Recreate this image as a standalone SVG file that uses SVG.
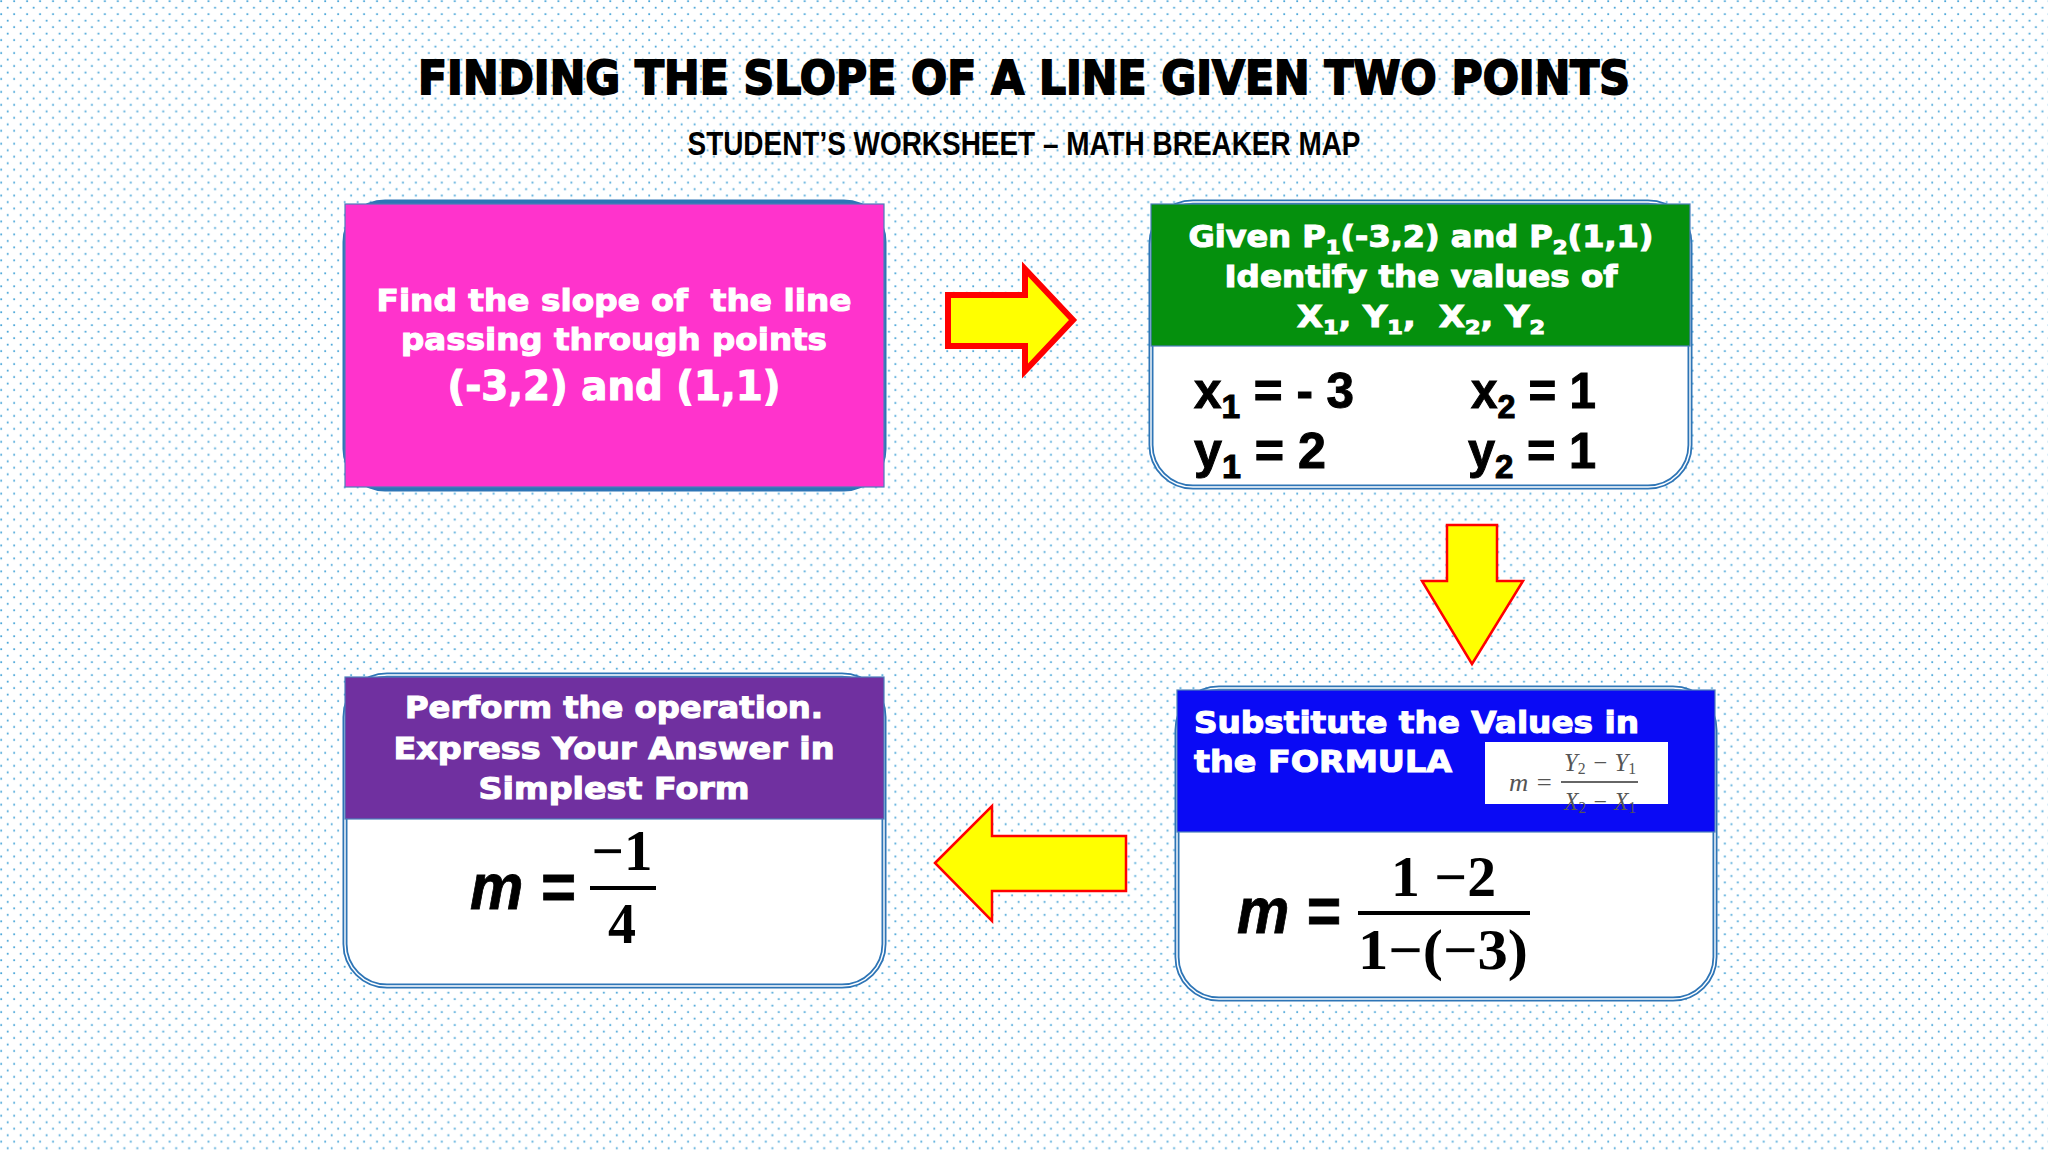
<svg xmlns="http://www.w3.org/2000/svg" width="2048" height="1152" viewBox="0 0 2048 1152">
<defs>
<pattern id="dots" x="0" y="0" width="12.96" height="12.96" patternUnits="userSpaceOnUse">
<rect x="0.3" y="0.3" width="1.8" height="1.8" fill="#4ba6d8"/>
<rect x="6.8" y="6.8" width="1.8" height="1.8" fill="#4ba6d8"/>
</pattern>
<style>
.frame{fill:#fff;stroke:#2e75b6;stroke-width:5}
.frameIn{fill:none;stroke:#fff;stroke-width:1.4}
.hdr{stroke:#4a7ebb;stroke-width:1.2}
.black{font-family:"DejaVu Sans","Liberation Sans",sans-serif;font-weight:bold}
.wt{fill:#fff;stroke:#fff;stroke-width:1.1}
.val{font-family:"Liberation Sans",Arial,sans-serif;font-weight:bold;font-size:50px;fill:#000;stroke:#000;stroke-width:1}
.mm{font-family:"Liberation Sans",Arial,sans-serif;font-weight:bold;font-style:italic;font-size:64px;fill:#000;stroke:#000;stroke-width:0.8}
.num{font-family:"Liberation Serif","DejaVu Serif",serif;font-weight:bold;font-size:56px;fill:#000}
.fm{font-family:"Liberation Serif","DejaVu Serif",serif;font-style:italic;font-size:25px;fill:#555}
.arrowY{fill:#ffff00;stroke:#ff0000;stroke-linejoin:miter}
</style>
</defs>
<rect width="2048" height="1152" fill="#fff"/>
<rect width="2048" height="1152" fill="url(#dots)"/>

<g id="title">
<text x="1024" y="94" text-anchor="middle" class="black" font-size="46" textLength="1212" lengthAdjust="spacingAndGlyphs" fill="#000" stroke="#000" stroke-width="1.8">FINDING THE SLOPE OF A LINE GIVEN TWO POINTS</text>
<text x="1024" y="155" text-anchor="middle" font-family="'Liberation Sans Narrow','Liberation Sans',Arial,sans-serif" font-weight="bold" font-size="33" textLength="673" lengthAdjust="spacingAndGlyphs" fill="#000">STUDENT’S WORKSHEET – MATH BREAKER MAP</text>
</g>

<g id="node-problem">
<rect class="frame" x="345" y="202" width="539" height="287" rx="40"/>
<rect class="hdr" x="345" y="204" width="539" height="283" fill="#ff33cc"/>
<text x="614" y="311" text-anchor="middle" class="black wt" font-size="31" textLength="475" lengthAdjust="spacingAndGlyphs" xml:space="preserve">Find the slope of  the line</text>
<text x="614" y="350" text-anchor="middle" class="black wt" font-size="31" textLength="426" lengthAdjust="spacingAndGlyphs">passing through points</text>
<text x="614" y="400" text-anchor="middle" class="black wt" font-size="40" textLength="333" lengthAdjust="spacingAndGlyphs">(-3,2) and (1,1)</text>
</g>

<g id="node-identify">
<rect class="frame" x="1151" y="202" width="539" height="285" rx="42"/>
<rect class="frameIn" x="1151" y="202" width="539" height="285" rx="42"/>
<rect class="hdr" x="1151" y="204" width="539" height="142" fill="#05900d"/>
<text x="1421" y="247" text-anchor="middle" class="black wt" font-size="30" textLength="465" lengthAdjust="spacingAndGlyphs">Given P<tspan font-size="20" dy="7">1</tspan><tspan dy="-7">(-3,2) and P</tspan><tspan font-size="20" dy="7">2</tspan><tspan dy="-7">(1,1)</tspan></text>
<text x="1421" y="287" text-anchor="middle" class="black wt" font-size="30" textLength="393" lengthAdjust="spacingAndGlyphs">Identify the values of</text>
<text x="1421" y="327" text-anchor="middle" class="black wt" font-size="30" textLength="248" lengthAdjust="spacingAndGlyphs" xml:space="preserve">X<tspan font-size="20" dy="7">1</tspan><tspan dy="-7">, Y</tspan><tspan font-size="20" dy="7">1</tspan><tspan dy="-7">,  X</tspan><tspan font-size="20" dy="7">2</tspan><tspan dy="-7">, Y</tspan><tspan font-size="20" dy="7">2</tspan></text>
<text x="1194" y="408" class="val" textLength="160" lengthAdjust="spacingAndGlyphs">x<tspan font-size="34" dy="10">1</tspan><tspan dy="-10"> = - 3</tspan></text>
<text x="1471" y="408" class="val" textLength="125" lengthAdjust="spacingAndGlyphs">x<tspan font-size="34" dy="10">2</tspan><tspan dy="-10"> = 1</tspan></text>
<text x="1194" y="468" class="val" textLength="132" lengthAdjust="spacingAndGlyphs">y<tspan font-size="34" dy="10">1</tspan><tspan dy="-10"> = 2</tspan></text>
<text x="1468" y="468" class="val" textLength="128" lengthAdjust="spacingAndGlyphs">y<tspan font-size="34" dy="10">2</tspan><tspan dy="-10"> = 1</tspan></text>
</g>

<g id="node-substitute">
<rect class="frame" x="1177" y="688" width="538" height="311" rx="42"/>
<rect class="frameIn" x="1177" y="688" width="538" height="311" rx="42"/>
<rect class="hdr" x="1177" y="690" width="538" height="142" fill="#0a0af5"/>
<text x="1194" y="733" class="black wt" font-size="30" textLength="445" lengthAdjust="spacingAndGlyphs">Substitute the Values in</text>
<text x="1194" y="772" class="black wt" font-size="30" textLength="258" lengthAdjust="spacingAndGlyphs">the FORMULA</text>
<rect x="1485" y="742" width="183" height="62" fill="#fff"/>
<text x="1509" y="791" class="fm" textLength="44" lengthAdjust="spacingAndGlyphs">m =</text>
<text x="1600" y="771" text-anchor="middle" class="fm" textLength="72" lengthAdjust="spacingAndGlyphs">Y<tspan font-size="16" dy="3" font-style="normal">2</tspan><tspan dy="-3"> − Y</tspan><tspan font-size="16" dy="3" font-style="normal">1</tspan></text>
<line x1="1561" y1="782" x2="1638" y2="782" stroke="#333" stroke-width="1.6"/>
<text x="1600" y="810" text-anchor="middle" class="fm" textLength="72" lengthAdjust="spacingAndGlyphs">X<tspan font-size="16" dy="3" font-style="normal">2</tspan><tspan dy="-3"> − X</tspan><tspan font-size="16" dy="3" font-style="normal">1</tspan></text>
<text x="1237" y="933" class="mm" textLength="103" lengthAdjust="spacingAndGlyphs">m =</text>
<text x="1391" y="896" class="num" textLength="105" lengthAdjust="spacingAndGlyphs">1 −2</text>
<line x1="1358" y1="913" x2="1530" y2="913" stroke="#000" stroke-width="4"/>
<text x="1358" y="969" class="num" textLength="170" lengthAdjust="spacingAndGlyphs">1−(−3)</text>
</g>

<g id="node-answer">
<rect class="frame" x="345" y="675" width="539" height="311" rx="42"/>
<rect class="frameIn" x="345" y="675" width="539" height="311" rx="42"/>
<rect class="hdr" x="345" y="677" width="539" height="142" fill="#7030a0"/>
<text x="614" y="718" text-anchor="middle" class="black wt" font-size="30" textLength="418" lengthAdjust="spacingAndGlyphs">Perform the operation.</text>
<text x="614" y="759" text-anchor="middle" class="black wt" font-size="30" textLength="441" lengthAdjust="spacingAndGlyphs">Express Your Answer in</text>
<text x="614" y="799" text-anchor="middle" class="black wt" font-size="30" textLength="271" lengthAdjust="spacingAndGlyphs">Simplest Form</text>
<text x="470" y="909" class="mm" textLength="105" lengthAdjust="spacingAndGlyphs">m =</text>
<text x="622" y="870" text-anchor="middle" class="num" textLength="61" lengthAdjust="spacingAndGlyphs">−1</text>
<line x1="590" y1="888" x2="656" y2="888" stroke="#000" stroke-width="4"/>
<text x="622" y="943" text-anchor="middle" class="num">4</text>
</g>

<g id="connectors">
<path class="arrowY" stroke-width="6" d="M948,295 H1025 V269 L1073,320 L1025,371 V346 H948 Z"/>
<path class="arrowY" stroke-width="2.5" d="M1447,525 H1497 V581 H1523 L1472,664 L1422,581 H1447 Z"/>
<path class="arrowY" stroke-width="2.5" d="M935,863 L992,806 V836 H1126 V891 H992 V921 Z"/>
</g>
</svg>
